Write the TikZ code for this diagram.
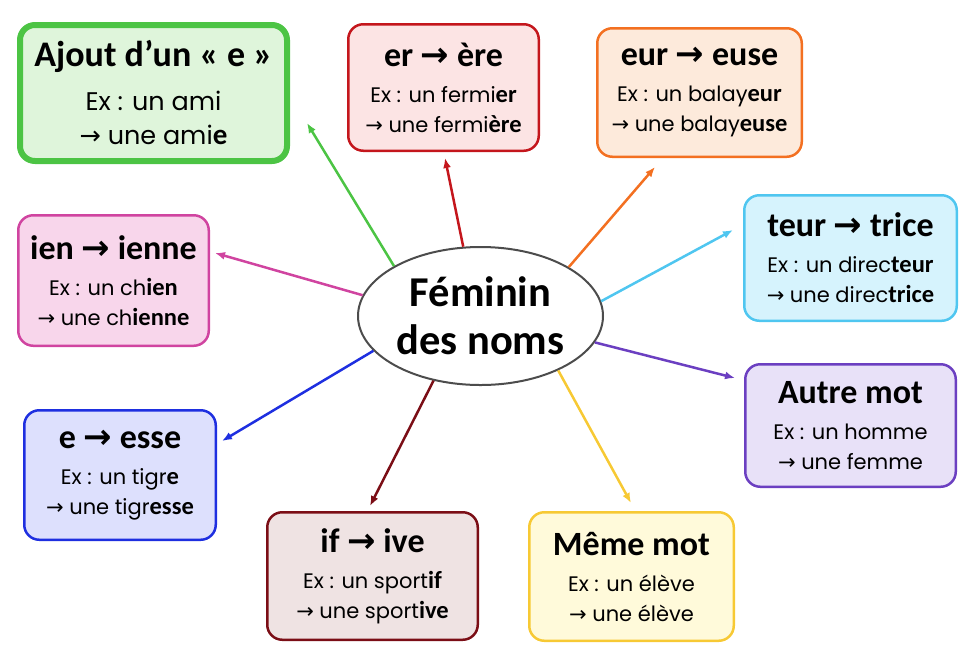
\documentclass[tikz,border=0pt]{standalone}
\usepackage{fontspec}
\setmainfont{Poppins}
\newfontfamily\calib{Carlito}
\newfontfamily\symf{DejaVu Sans}
\usetikzlibrary{shapes.geometric}
\usetikzlibrary{arrows.meta}
\tikzset{>={Latex[width=8pt,length=10pt]}}

\definecolor{cgreen}{HTML}{4CC444}\definecolor{fgreen}{HTML}{DFF5DB}
\definecolor{cred}{HTML}{C4161C}\definecolor{fred}{HTML}{FCE4E4}
\definecolor{corange}{HTML}{F37021}\definecolor{forange}{HTML}{FDEADB}
\definecolor{ccyan}{HTML}{4FC6F0}\definecolor{fcyan}{HTML}{D6F3FD}
\definecolor{cpurple}{HTML}{6B3FC1}\definecolor{fpurple}{HTML}{E8E1F8}
\definecolor{cyellow}{HTML}{F7C934}\definecolor{fyellow}{HTML}{FFFADA}
\definecolor{cdarkred}{HTML}{7B0E16}\definecolor{fdarkred}{HTML}{EFE3E3}
\definecolor{cblue}{HTML}{1E2FE0}\definecolor{fblue}{HTML}{DDE0FD}
\definecolor{cpink}{HTML}{D044A0}\definecolor{fpink}{HTML}{F8D6EB}

\newcommand{\tto}{{\symf →}}
\newcommand{\hl}[1]{{\calib\bfseries\fontsize{24.5}{30}\selectfont #1}}
\newcommand{\ttl}[1]{{\calib\bfseries\fontsize{34}{30}\selectfont #1}}
\newcommand{\bighl}[1]{{\calib\bfseries\fontsize{29}{34}\selectfont #1}}
\newcommand{\bigttl}[1]{{\calib\bfseries\fontsize{36}{34}\selectfont #1}}

\begin{document}
\begin{tikzpicture}[x=1pt, y=-1pt,
    box/.style={rectangle, rounded corners=15pt, line width=2.5pt, align=center, inner sep=0pt, font=\fontsize{21}{30}\selectfont},
    bigbox/.style={box, line width=6pt, font=\fontsize{25.5}{34}\selectfont},
    center/.style={ellipse, draw=black!70, fill=white, line width=2pt, inner sep=0pt, minimum width=245pt, minimum height=138pt, align=center, font=\calib\bfseries\fontsize{42.5}{48}\selectfont},
    link/.style={->, line width=2.5pt} ]

    \useasboundingbox (0,0) rectangle (974,665);

    %Nodes
    \node[center] (feminin) at (480.5,316) {Féminin\\des noms};
    \node[bigbox, draw=cgreen, fill=fgreen, minimum width=267pt, minimum height=136pt] (ajout_e) at (153.5,93)
        {\bigttl{Ajout d’un « e »}\\[10pt] Ex : un ami\\ \tto\ une ami\bighl{e}};
    \node[box, draw=cred, fill=fred, minimum width=190.5pt, minimum height=126.5pt] (er_ere) at (443.5,87.5)
        {\ttl{er \tto\ ère}\\[6pt] Ex : un fermi\hl{er}\\ \tto\ une fermi\hl{ère}};
    \node[box, draw=corange, fill=forange, minimum width=204.5pt, minimum height=128.5pt] (eur_euse) at (699.5,92.5)
        {\ttl{eur \tto\ euse}\\[6pt] Ex : un balay\hl{eur}\\ \tto\ une balay\hl{euse}};
    \node[box, draw=ccyan, fill=fcyan, minimum width=212.5pt, minimum height=125.5pt] (teur_trice) at (850.5,258)
        {\ttl{teur \tto\ trice}\\[6pt] Ex : un direc\hl{teur}\\ \tto\ une direc\hl{trice}};
    \node[box, draw=cpurple, fill=fpurple, minimum width=210.5pt, minimum height=122.5pt] (autre_mot) at (850.5,425.5)
        {\ttl{Autre mot}\\[6pt] Ex : un homme\\ \tto\ une femme};
    \node[box, draw=cyellow, fill=fyellow, minimum width=204.5pt, minimum height=128.5pt] (meme_mot) at (631.5,576.5)
        {\ttl{Même mot}\\[6pt] Ex : un élève\\ \tto\ une élève};
    \node[box, draw=cdarkred, fill=fdarkred, minimum width=210.5pt, minimum height=127.5pt] (if_ive) at (372.5,576)
        {\ttl{if \tto\ ive}\\[6pt] Ex : un sport\hl{if}\\ \tto\ une sport\hl{ive}};
    \node[box, draw=cblue, fill=fblue, minimum width=191.5pt, minimum height=129.5pt] (e_esse) at (120,475)
        {\ttl{e \tto\ esse}\\[6pt] Ex : un tigr\hl{e}\\ \tto\ une tigr\hl{esse}};
    \node[box, draw=cpink, fill=fpink, minimum width=190.5pt, minimum height=130.5pt] (ien_ienne) at (113.5,280.5)
        {\ttl{ien \tto\ ienne}\\[6pt] Ex : un ch\hl{ien}\\ \tto\ une ch\hl{ienne}};

    %Tips
    \coordinate (tip_ajout) at (307,123);
    \coordinate (tip_er) at (445,158);
    \coordinate (tip_eur) at (655,167);
    \coordinate (tip_teur) at (733,230);
    \coordinate (tip_autre) at (735,378);
    \coordinate (tip_meme) at (631,503);
    \coordinate (tip_if) at (370,506);
    \coordinate (tip_e) at (222,441);
    \coordinate (tip_ien) at (215,253);

    %Lines
    \draw[link, cgreen] (feminin.150.3) -- (tip_ajout);
    \draw[link, cred] (feminin.104.6) -- (tip_er);
    \draw[link, corange] (feminin.29.7) -- (tip_eur);
    \draw[link, ccyan] (feminin.7.6) -- (tip_teur);
    \draw[link, cpurple] (feminin.-13.1) -- (tip_autre);
    \draw[link, cyellow] (feminin.-35.8) -- (tip_meme);
    \draw[link, cdarkred] (feminin.-126.3) -- (tip_if);
    \draw[link, cblue] (feminin.198.9) -- (tip_e);
    \draw[link, cpink] (feminin.170.6) -- (tip_ien);
\end{tikzpicture}
\end{document}
